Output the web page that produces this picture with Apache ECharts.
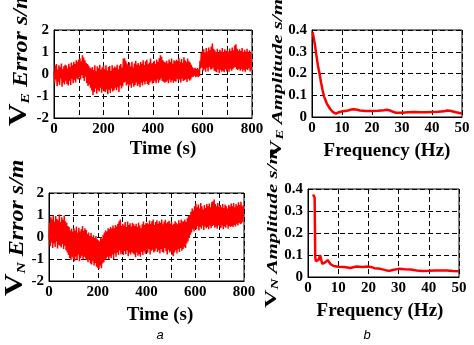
<!DOCTYPE html>
<html><head><meta charset="utf-8">
<script src="https://cdn.jsdelivr.net/npm/echarts@6/dist/echarts.min.js"></script>
<style>html,body{margin:0;padding:0;background:#fff}#c{width:474px;height:345px}</style>
</head><body><div id="c"></div>
<script>
// ---------- data ----------
const timeStep = 2.5; // seconds between samples (sampling grid)
const timeLabels = [0, 200, 400, 600, 800];
const errorTicks = [-2, -1, 0, 1, 2];
const ampTicks = [0, 0.1, 0.2, 0.3, 0.4];
const freqLabels = [0, 10, 20, 30, 40, 50];

const veError = [
0.1,-0.42,0.38,-0.25,0.45,-0.55,0.2,-0.35,0.4,-0.5,0.3,-0.2,0.48,-0.58,0.22,-0.4,0.35,-0.48,0.42,-0.3,
0.38,-0.45,0.25,-0.52,0.46,-0.3,0.32,-0.5,0.52,-0.22,0.4,-0.42,0.55,-0.28,0.45,-0.38,0.62,-0.2,0.56,-0.25,
0.66,-0.15,0.72,-0.25,0.58,-0.02,0.85,-0.18,0.75,-0.32,0.62,-0.12,0.5,-0.42,0.45,-0.55,0.38,-0.48,0.3,-0.62,
0.25,-0.75,0.32,-0.95,0.18,-0.82,0.4,-0.66,0.12,-0.9,0.35,-0.72,0.26,-0.8,0.42,-0.62,0.2,-0.85,0.3,-0.7,
0.38,-0.78,0.22,-0.82,0.4,-0.7,0.16,-0.92,0.32,-0.72,0.36,-0.86,0.14,-0.66,0.4,-0.8,0.26,-0.74,0.34,-0.62,
0.3,-0.74,0.42,-0.6,0.22,-0.82,0.38,-0.52,0.45,-0.66,0.28,-0.56,0.7,-0.4,0.72,-0.35,0.6,-0.52,0.48,-0.46,
0.4,-0.56,0.52,-0.48,0.34,-0.62,0.56,-0.42,0.3,-0.58,0.48,-0.5,0.6,-0.38,0.42,-0.55,0.5,-0.46,0.38,-0.6,
0.55,-0.4,0.46,-0.52,0.62,-0.35,0.4,-0.48,0.58,-0.32,0.65,-0.45,0.44,-0.5,0.52,-0.38,0.7,-0.3,0.48,-0.43,
0.5,-0.38,0.6,-0.3,0.45,-0.42,0.65,-0.25,0.55,-0.4,0.72,-0.28,0.85,-0.2,0.78,-0.32,0.62,-0.35,0.56,-0.4,
0.52,-0.36,0.6,-0.3,0.48,-0.42,0.66,-0.25,0.54,-0.38,0.7,-0.28,0.46,-0.4,0.62,-0.32,0.58,-0.35,0.65,-0.22,
0.6,-0.3,0.72,-0.25,0.55,-0.38,0.68,-0.2,0.5,-0.32,0.76,-0.28,0.62,-0.24,0.54,-0.36,0.7,-0.22,0.58,-0.3,
0.52,-0.25,0.42,-0.15,0.3,-0.12,0.25,-0.08,0.28,-0.14,0.22,-0.1,0.27,-0.15,0.2,-0.1,0.6,0.25,0.95,0.3,
1.05,0.15,1.12,0.22,0.98,0.1,1.18,0.28,1.02,0.12,1.2,0.32,1.08,0.2,1.25,0.22,1.38,0.28,1.15,0.15,
1.08,0.12,1.0,0.08,1.15,0.22,0.95,0.05,1.1,0.2,1.02,0.1,1.18,0.15,0.98,0.08,1.12,0.22,1.05,0.12,
1.1,0.2,1.02,0.1,1.16,0.24,1.05,0.15,1.2,0.22,1.08,0.28,1.3,0.32,1.35,0.22,1.15,0.18,1.06,0.24,
1.12,0.15,1.04,0.22,1.18,0.12,1.0,0.2,1.1,0.1,1.02,0.22,1.15,0.18,0.98,0.26,1.08,0.12,0.95,0.2
];

const vnError = [
-0.1,0.65,-0.42,0.92,-0.25,0.8,-0.5,1.0,-0.3,0.7,-0.45,0.95,-0.2,0.82,-0.52,0.76,-0.35,1.02,-0.4,0.68,
-0.48,0.9,-0.32,0.78,-0.55,0.98,-0.4,0.72,-0.6,0.65,-0.7,0.5,-0.82,0.45,-0.95,0.3,-1.05,0.38,-0.9,0.25,
-1.0,0.4,-1.1,0.3,-0.88,0.48,-1.05,0.2,-0.8,0.42,-1.1,0.25,-0.95,0.35,-0.85,0.5,-1.02,0.28,-0.9,0.4,
-0.98,0.32,-1.05,0.15,-1.15,0.2,-1.0,0.05,-1.2,0.18,-1.25,0.0,-1.1,0.08,-1.3,-0.05,-1.18,0.05,-1.35,-0.1,
-1.4,-0.15,-1.45,-0.2,-1.3,0.0,-1.42,-0.08,-1.2,0.1,-1.15,0.2,-1.05,0.3,-0.98,0.25,-0.9,0.4,-1.0,0.35,
-0.88,0.45,-0.95,0.38,-0.8,0.52,-1.0,0.4,-0.75,0.55,-0.9,0.48,-0.7,0.6,-0.82,0.72,-0.6,0.8,-0.78,0.5,
-0.7,0.6,-0.82,0.52,-0.65,0.68,-0.78,0.45,-0.6,0.7,-0.88,0.55,-0.72,0.62,-0.8,0.48,-0.68,0.65,-0.75,0.58,
-0.8,0.5,-0.92,0.6,-0.7,0.45,-0.85,0.65,-0.78,0.52,-0.9,0.4,-0.68,0.58,-0.82,0.7,-0.65,0.55,-0.76,0.62,
-0.6,0.65,-0.72,0.58,-0.55,0.75,-0.8,0.6,-0.62,0.72,-0.58,0.8,-0.7,0.55,-0.65,0.68,-0.52,0.76,-0.68,0.6,
-0.6,0.72,-0.75,0.65,-0.55,0.8,-0.68,0.58,-0.72,0.7,-0.5,0.78,-0.65,0.62,-0.8,0.68,-0.58,0.74,-0.7,0.6,
-0.65,0.7,-0.82,0.55,-0.88,0.6,-0.7,0.72,-0.6,0.65,-0.75,0.58,-0.55,0.76,-0.68,0.62,-0.5,0.8,-0.62,0.7,
-0.55,0.72,-0.45,0.8,-0.5,0.68,-0.3,0.85,-0.2,0.95,-0.05,1.0,0.1,1.15,0.2,1.3,0.35,1.2,0.25,1.4,
0.4,1.52,0.35,1.35,0.5,1.48,0.3,1.3,0.45,1.55,0.38,1.4,0.52,1.25,0.32,1.45,0.48,1.32,0.4,1.5,
0.45,1.4,0.35,1.52,0.52,1.35,0.4,1.58,0.5,1.62,0.55,1.7,0.42,1.5,0.48,1.4,0.38,1.55,0.52,1.38,
0.45,1.45,0.4,1.35,0.52,1.5,0.35,1.32,0.48,1.48,0.42,1.4,0.56,1.3,0.38,1.45,0.5,1.38,0.45,1.52,
0.5,1.4,0.45,1.55,0.55,1.35,0.48,1.5,0.6,1.42,0.52,1.58,0.65,1.45,0.58,1.6,0.62,1.4,0.7,1.45
];

const veFreq = [0.2,0.5,1,1.5,2,2.5,3,3.5,4,5,6,7,7.5,8,9,10,11,12,13,14,15,16,18,20,22,24,25,26,27,28,30,32,34,36,38,40,42,44,45,46,48,50];
const veAmp  = [0.39,0.37,0.33,0.28,0.235,0.2,0.16,0.125,0.095,0.06,0.038,0.022,0.017,0.015,0.022,0.026,0.028,0.03,0.034,0.036,0.033,0.03,0.028,0.028,0.029,0.031,0.033,0.03,0.024,0.019,0.02,0.022,0.023,0.022,0.022,0.023,0.024,0.026,0.03,0.029,0.022,0.016];

const vnFreq = [1.7,2.0,2.2,2.3,2.4,2.6,3.0,3.5,4.0,4.3,4.7,5.2,5.8,6.5,7.0,7.5,8.5,10,12,14,16,18,20,21,22,24,26,27,28,30,32,34,36,38,40,42,44,46,48,50];
const vnAmp  = [0.375,0.37,0.36,0.22,0.09,0.072,0.075,0.078,0.1,0.092,0.06,0.062,0.068,0.077,0.068,0.058,0.05,0.047,0.045,0.041,0.048,0.046,0.048,0.045,0.04,0.037,0.03,0.028,0.032,0.037,0.035,0.034,0.03,0.027,0.028,0.03,0.03,0.029,0.027,0.026];

// ---------- chart ----------
const SERIF = '"Liberation Serif","Times New Roman",serif';
const SANS = '"Liberation Sans",Arial,sans-serif';
const pairsT = arr => arr.map((v, i) => [i * timeStep, v]);
const zip = (xs, ys) => xs.map((x, i) => [x, ys[i]]);

const dashed = {show: true, lineStyle: {color: '#000', width: 1, type: [5, 3]}};
const lbl = {color: '#000', fontFamily: SERIF, fontWeight: 'bold', fontSize: 15};

function xAxisCfg(gi, min, max, interval, labels, name, gap, pad) {
  return {
    type: 'value', gridIndex: gi, min, max, interval, z: 3,
    axisLine: {show: true, onZero: false, lineStyle: {color: '#000', width: 1}},
    axisTick: {show: false},
    splitLine: dashed,
    axisLabel: Object.assign({}, lbl, {margin: 4, showMinLabel: true, showMaxLabel: true,
      formatter: v => labels.indexOf(v) >= 0 ? String(v) : ''}),
    name, nameLocation: 'middle', nameGap: gap,
    nameTextStyle: {color: '#000', fontFamily: SERIF, fontWeight: 'bold', fontSize: 19, padding: pad}
  };
}
function yAxisCfg(gi, ticks) {
  const iv = ticks[1] - ticks[0];
  return {
    type: 'value', gridIndex: gi, min: ticks[0], max: ticks[ticks.length - 1], interval: iv, z: 3,
    axisLine: {show: true, onZero: false, lineStyle: {color: '#000', width: 1}},
    axisTick: {show: false},
    splitLine: dashed,
    axisLabel: Object.assign({}, lbl, {margin: 5,
      formatter: v => { const r = Math.round(v * 10) / 10; return String(r); }})
  };
}

function yTitle(x, y, sc, text, big, sub, main, lhV, lhT) {
  const rich = {
    v: {fontFamily: SERIF, fontWeight: 'bold', fontSize: big, lineHeight: lhV, verticalAlign: 'bottom', fill: '#000'},
    s: {fontFamily: SERIF, fontWeight: 'bold', fontStyle: 'italic', fontSize: sub, lineHeight: sub, verticalAlign: 'bottom', fill: '#000'},
    t: {fontFamily: SERIF, fontWeight: 'bold', fontStyle: 'italic', fontSize: main, lineHeight: lhT, verticalAlign: 'bottom', fill: '#000'}
  };
  return {type: 'text', x, y, rotation: Math.PI / 2, scaleX: sc, scaleY: 1,
    style: {text, rich, align: 'left', verticalAlign: 'bottom', fill: '#000'}, silent: true};
}

const chart = echarts.init(document.getElementById('c'), null, {renderer: 'canvas'});
chart.setOption({
  animation: false,
  backgroundColor: '#fff',
  grid: [
    {left: 54, top: 30, width: 198, height: 88, show: true, borderColor: '#000', borderWidth: 1},
    {left: 312, top: 30, width: 150, height: 87, show: true, borderColor: '#000', borderWidth: 1},
    {left: 49, top: 193, width: 195, height: 88, show: true, borderColor: '#000', borderWidth: 1},
    {left: 308, top: 189, width: 151, height: 88, show: true, borderColor: '#000', borderWidth: 1}
  ],
  xAxis: [
    xAxisCfg(0, 0, 800, 100, timeLabels, 'Time (s)', 22, [0, 0, 0, 20]),
    xAxisCfg(1, 0, 50, 10, freqLabels, 'Frequency (Hz)', 25, [0, 0, 0, 0]),
    xAxisCfg(2, 0, 800, 100, timeLabels, 'Time (s)', 25, [0, 0, 0, 27]),
    xAxisCfg(3, 0, 50, 10, freqLabels, 'Frequency (Hz)', 25, [0, 7, 0, 0])
  ],
  yAxis: [yAxisCfg(0, errorTicks), yAxisCfg(1, ampTicks), yAxisCfg(2, errorTicks), yAxisCfg(3, ampTicks)],
  series: [
    {type: 'line', xAxisIndex: 0, yAxisIndex: 0, data: pairsT(veError), symbol: 'none', lineStyle: {color: '#ff0000', width: 1.5}},
    {type: 'line', xAxisIndex: 1, yAxisIndex: 1, data: zip(veFreq, veAmp), symbol: 'none', lineStyle: {color: '#ff0000', width: 2.5}},
    {type: 'line', xAxisIndex: 2, yAxisIndex: 2, data: pairsT(vnError), symbol: 'none', lineStyle: {color: '#ff0000', width: 1.5}},
    {type: 'line', xAxisIndex: 3, yAxisIndex: 3, data: zip(vnFreq, vnAmp), symbol: 'none', lineStyle: {color: '#ff0000', width: 2.5}}
  ],
  graphic: [
    yTitle(32, 126, 1.2, '{v|V}{s|E}{t| Error s/m}', 26, 13, 20, 36, 40),
    yTitle(28, 296, 1.2, '{v|V}{s|N}{t| Error s/m}', 26, 13, 20, 36, 40),
    yTitle(285, 158, 1.5, '{v|V}{s|E}{t| Amplitude s/m}', 17, 10, 14, 38, 32),
    yTitle(280, 308, 1.5, '{v|V}{s|N}{t| Amplitude s/m}', 17, 10, 14, 38, 32),
    {type: 'text', x: 160, y: 335, style: {text: 'a', font: 'italic 13px ' + SANS, fill: '#000', align: 'center', verticalAlign: 'middle'}, silent: true},
    {type: 'text', x: 367, y: 335, style: {text: 'b', font: 'italic 13px ' + SANS, fill: '#000', align: 'center', verticalAlign: 'middle'}, silent: true}
  ]
});
</script>
</body></html>
